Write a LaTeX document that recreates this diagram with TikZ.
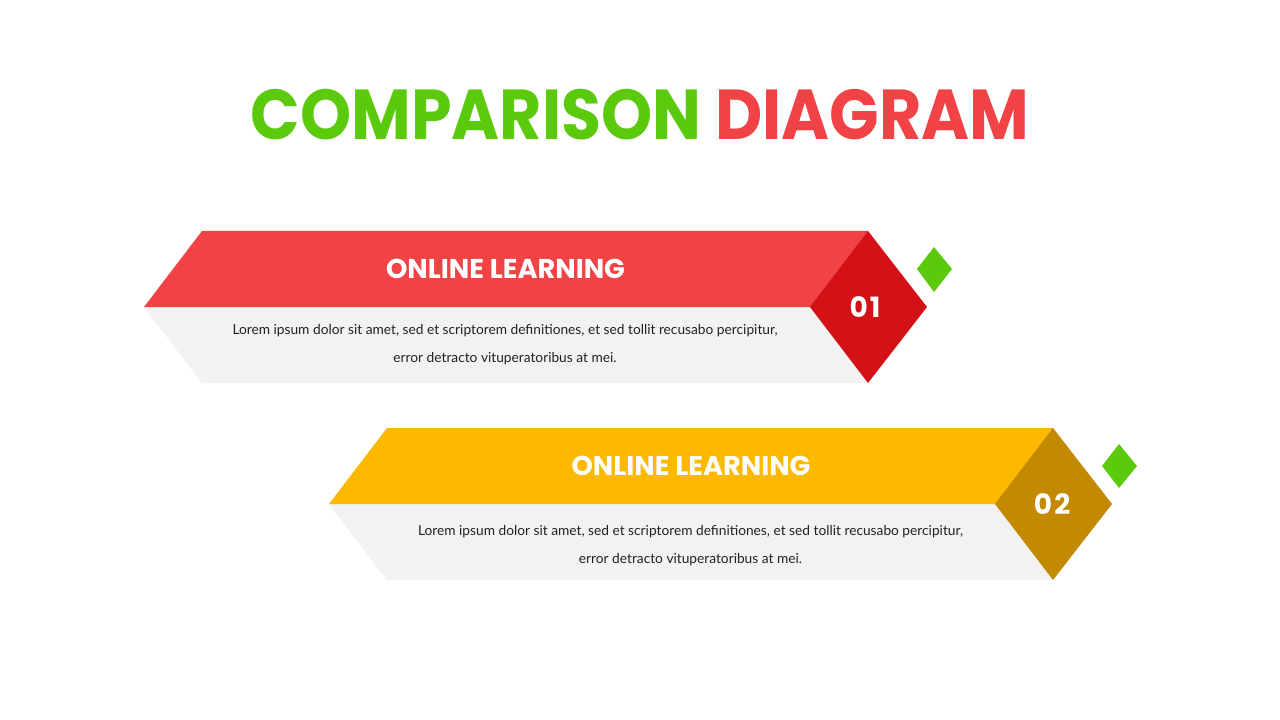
\documentclass[tikz,border=0pt]{standalone}
\usepackage{fontspec}
\setmainfont{Lato}
\newfontfamily\titlefont{Poppins}[UprightFont=* Bold,FakeStretch=0.92]
\newfontfamily\headfont{Poppins}[UprightFont=* Bold]
\newfontfamily\numfont{Poppins}[UprightFont=* Bold,LetterSpace=8]
\newfontfamily\bodyfont{Lato}
\definecolor{tgreen}{HTML}{5BCA0C}
\definecolor{tred}{HTML}{F14245}
\definecolor{dred}{HTML}{D31116}
\definecolor{tyellow}{HTML}{FDB800}
\definecolor{dgold}{HTML}{C38A00}
\definecolor{lgray}{HTML}{F2F2F2}
\definecolor{btext}{HTML}{222222}
\tikzset{
  headtext/.style={text=white,font=\headfont\fontsize{20.4pt}{20.4pt}\selectfont,inner sep=0pt},
  numtext/.style={text=white,font=\numfont\fontsize{21pt}{21pt}\selectfont,inner sep=0pt},
  bodytext/.style={text=btext,font=\bodyfont\fontsize{10.3pt}{12pt}\selectfont,inner sep=0pt},
}
\begin{document}
\begin{tikzpicture}[x=0.75pt,y=-0.75pt]
\useasboundingbox[fill=white] (0,0) rectangle (1280,720);
% title
\node[inner sep=0pt,font=\titlefont\fontsize{53pt}{53pt}\selectfont] (title) at (640,115)
  {\textcolor{tgreen}{COMPARISON} \textcolor{tred}{DIAGRAM}};
% ---- block 1
\fill[lgray] (144,307) -- (868,307) -- (868,383) -- (202,383) -- cycle;
\fill[tred] (202,231) -- (868,231) -- (868,307) -- (144,307) -- cycle;
\fill[dred] (868,231) -- (927,307) -- (868,383) -- (810,307) -- cycle;
\fill[tgreen] (934,247) -- (952,269) -- (934,292) -- (917,269) -- cycle;
\node[headtext] (h1) at (505.5,269) {ONLINE LEARNING};
\node[numtext] (n1) at (865,307) {01};
\node[bodytext] (b1a) at (505,331) {Lorem ipsum dolor sit amet, sed et scriptorem definitiones, et sed tollit recusabo percipitur,};
\node[bodytext] (b1b) at (505,359) {error detracto vituperatoribus at mei.};
% ---- block 2
\fill[lgray] (329,504) -- (1053,504) -- (1053,580) -- (387,580) -- cycle;
\fill[tyellow] (387,428) -- (1053,428) -- (1053,504) -- (329,504) -- cycle;
\fill[dgold] (1053,428) -- (1112,504) -- (1053,580) -- (995,504) -- cycle;
\fill[tgreen] (1119,444) -- (1137,466) -- (1119,488) -- (1102,466) -- cycle;
\node[headtext] (h2) at (691,466) {ONLINE LEARNING};
\node[numtext] (n2) at (1052,504) {02};
\node[bodytext] (b2a) at (690.5,532) {Lorem ipsum dolor sit amet, sed et scriptorem definitiones, et sed tollit recusabo percipitur,};
\node[bodytext] (b2b) at (690.5,560) {error detracto vituperatoribus at mei.};
\end{tikzpicture}
\end{document}
